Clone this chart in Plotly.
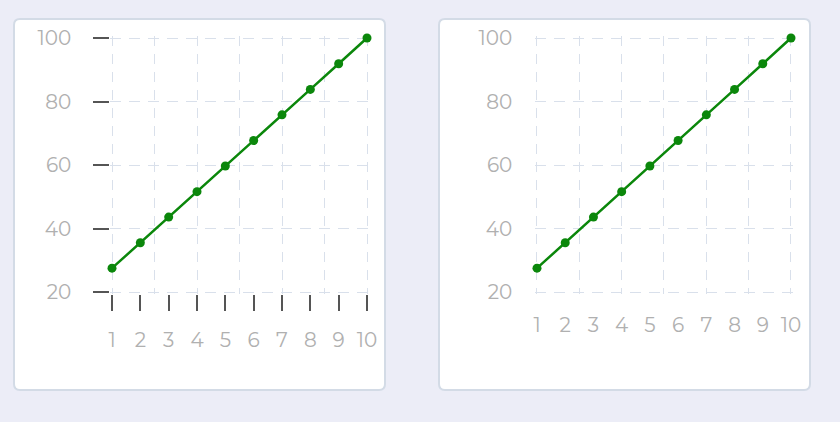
import plotly.graph_objects as go

# data
steps = [1, 2, 3, 4, 5, 6, 7, 8, 9, 10]
values = [27.5, 35.5, 43.6, 51.6, 59.7, 67.7, 75.8, 83.8, 91.9, 100]
y_ticks = [20, 40, 60, 80, 100]

W, H = 840, 422
BG = "#ecedf7"
GRID = "#d9e0eb"
LABEL = "#b0b0b0"
LINE = "#0b870b"

# plotly drops grid lines sitting right on the plot edge, so pad the
# ranges a touch and widen the domains by the same amount of pixels
XPAD, YPAD = 0.06, 0.5


def px_x(v):
    return v / W


def px_y(v):
    # pixel from top -> paper from bottom
    return 1 - v / H


def rounded_box(x0, y0, x1, y1, r=6):
    """SVG path in paper coords for a rounded rect given in pixels."""
    rx, ry = r / W, r / H
    X0, X1 = px_x(x0), px_x(x1)
    Yt, Yb = px_y(y0), px_y(y1)
    return (
        f"M {X0 + rx},{Yt} L {X1 - rx},{Yt} Q {X1},{Yt} {X1},{Yt - ry} "
        f"L {X1},{Yb + ry} Q {X1},{Yb} {X1 - rx},{Yb} "
        f"L {X0 + rx},{Yb} Q {X0},{Yb} {X0},{Yb + ry} "
        f"L {X0},{Yt - ry} Q {X0},{Yt} {X0 + rx},{Yt} Z"
    )


def x_domain(left, right):
    k = (right - left) / (steps[-1] - steps[0])
    return [px_x(left - XPAD * k), px_x(right + XPAD * k)]


fig = go.Figure()
for xa, ya in (("x", "y"), ("x2", "y2")):
    fig.add_trace(
        go.Scatter(
            x=steps,
            y=values,
            mode="lines+markers",
            xaxis=xa,
            yaxis=ya,
            line=dict(color=LINE, width=2.5),
            marker=dict(color=LINE, size=9),
            cliponaxis=False,
            showlegend=False,
            hoverinfo="skip",
        )
    )
# empty traces so the grid-only overlay axes get drawn
fig.add_trace(go.Scatter(x=[None], y=[None], xaxis="x3", yaxis="y", showlegend=False, hoverinfo="skip"))
fig.add_trace(go.Scatter(x=[None], y=[None], xaxis="x4", yaxis="y2", showlegend=False, hoverinfo="skip"))

font = dict(family="Montserrat, Open Sans, sans-serif", size=20, color=LABEL)
xr = [steps[0] - XPAD, steps[-1] + XPAD]
yr = [y_ticks[0] - YPAD, y_ticks[-1] + YPAD]
common_x = dict(range=xr, tickvals=steps, showgrid=False, zeroline=False,
                showline=False, automargin=False, tickfont=font, fixedrange=True)
common_y = dict(range=yr, tickvals=y_ticks, showgrid=True, gridcolor=GRID,
                griddash="11px,8px", gridwidth=1, zeroline=False, showline=False,
                automargin=False, tickfont=font, fixedrange=True)
grid_x = dict(range=xr, tick0=1, dtick=1.5, showgrid=True, gridcolor=GRID,
              griddash="10px,8px", gridwidth=1, showticklabels=False, ticks="",
              zeroline=False, showline=False, automargin=False, fixedrange=True)

ypad_px = YPAD * 254 / 80
y_dom = [px_y(292 + ypad_px), px_y(38 - ypad_px)]

fig.update_layout(
    width=W,
    height=H,
    margin=dict(l=0, r=0, t=0, b=0),
    paper_bgcolor=BG,
    plot_bgcolor="rgba(0,0,0,0)",
    xaxis=dict(**common_x, domain=x_domain(112, 367), anchor="y", ticks="outside",
               ticklen=16, tickwidth=1.5, tickcolor="#555555", ticklabelstandoff=12),
    yaxis=dict(**common_y, domain=y_dom, anchor="x", ticks="outside", ticklen=16,
               tickwidth=1.5, tickcolor="#555555", ticklabelstandoff=18),
    xaxis2=dict(**common_x, domain=x_domain(537, 791), anchor="y2", ticks="",
                ticklabelstandoff=17),
    yaxis2=dict(**common_y, domain=y_dom, anchor="x2", ticks="", ticklabelstandoff=22),
    xaxis3=dict(**grid_x, overlaying="x", anchor="y"),
    xaxis4=dict(**grid_x, overlaying="x2", anchor="y2"),
    shapes=[
        dict(type="path", path=rounded_box(14, 19, 385, 390), xref="paper", yref="paper",
             fillcolor="white", line=dict(color="#d3dbe6", width=2), layer="below"),
        dict(type="path", path=rounded_box(439, 19, 810, 390), xref="paper", yref="paper",
             fillcolor="white", line=dict(color="#d3dbe6", width=2), layer="below"),
    ],
)

fig.write_html(
    "out.html",
    config={"displayModeBar": False},
    post_script="document.body.style.margin='0';",
)
